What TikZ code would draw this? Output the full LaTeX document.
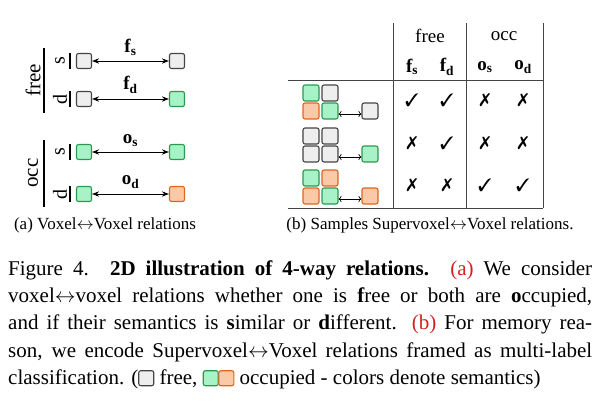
\documentclass[tikz,border=0pt]{standalone}
\usepackage{fontspec}
\setmainfont{Liberation Serif}
\usepackage{pifont}
\usetikzlibrary{arrows.meta}
\definecolor{gfill}{HTML}{EEEEEE}\definecolor{gdraw}{HTML}{444444}
\definecolor{nfill}{HTML}{A8F2C8}\definecolor{ndraw}{HTML}{2A9A4E}
\definecolor{ofill}{HTML}{FBC9A6}\definecolor{odraw}{HTML}{E0661E}
\definecolor{cred}{HTML}{D42020}
\tikzset{
 sq/.style={draw, minimum size=15pt, inner sep=0pt, rounded corners=2pt, line width=1.1pt},
 gs/.style={sq, fill=gfill, draw=gdraw},
 ns/.style={sq, fill=nfill, draw=ndraw},
 os/.style={sq, fill=ofill, draw=odraw},
 bar/.style={line width=1.8pt},
 rel/.style={<->, >={Stealth[length=7pt]}, line width=1pt},
 srel/.style={<->, >={To[length=3pt]}, line width=0.7pt},
 txt/.style={inner sep=0pt, font=\fontsize{17}{20}\selectfont},
 body/.style={inner sep=0pt, anchor=base west, font=\fontsize{21}{24}\selectfont},
 tbl/.style={line width=0.9pt, draw=gdraw},
 ss/.style={minimum size=16pt},
 lab/.style={above=2pt, font=\fontsize{19}{20}\selectfont},
 mk/.style={inner sep=0pt, font=\fontsize{18}{20}\selectfont}
}
\newcommand\isq[1]{\tikz[baseline=-0.6ex]\node[#1]{};}
\begin{document}
\begin{tikzpicture}[x=1pt,y=-1pt]
\useasboundingbox (0,0) rectangle (600,400);
% left panel
\draw[bar] (44,48) -- (44,113);
\draw[bar] (44,140) -- (44,207);
\node[txt, rotate=90, font=\fontsize{21}{22}\selectfont] (free) at (33,80) {free};
\node[txt, rotate=90, font=\fontsize{21}{22}\selectfont] (occ) at (33,173) {occ};
\foreach \y/\l/\n in {61/s/a,99/d/b,152/s/c,194/d/e}{
 \draw[bar] (70,\y-8) -- (70,\y+8);
 \node[txt, rotate=90, font=\fontsize{20}{22}\selectfont] (lab\n) at (60,\y) {\l};
}
\node[gs] (l1) at (84,61) {}; \node[gs] (r1) at (177,61) {};
\node[gs] (l2) at (84,99) {}; \node[ns] (r2) at (177,99) {};
\node[ns] (l3) at (84,152) {}; \node[ns] (r3) at (177,152) {};
\node[ns] (l4) at (84,194) {}; \node[os] (r4) at (177,194) {};
\draw[rel] (l1) -- node[lab] (t1) {$\mathbf{f_s}$} (r1);
\draw[rel] (l2) -- node[lab] (t2) {$\mathbf{f_d}$} (r2);
\draw[rel] (l3) -- node[lab] (t3) {$\mathbf{o_s}$} (r3);
\draw[rel] (l4) -- node[lab] (t4) {$\mathbf{o_d}$} (r4);
\node[txt] (capa) at (105,225) {(a) Voxel$\leftrightarrow$Voxel relations};
% table
\draw[tbl] (393,23) -- (393,208);
\draw[tbl] (466,23) -- (466,208);
\draw[tbl] (543,23) -- (543,208);
\draw[tbl] (288,80) -- (543,80);
\draw[tbl] (288,208) -- (543,208);
\node[txt, font=\fontsize{19}{20}\selectfont] (hfree) at (430,36) {free};
\node[txt, font=\fontsize{19}{20}\selectfont] (hocc) at (504,36) {occ};
\foreach \x/\a/\b/\n in {412/f/s/a,447/f/d/b,485/o/s/c,523/o/d/d}
 \node[txt, font=\fontsize{19}{20}\selectfont\bfseries] (h\n) at (\x,67) {\a\textsubscript{\b}};
\foreach \y/\a/\b/\c/\d/\n in {100/51/51/55/55/1, 143/55/51/55/55/2, 185/55/55/51/51/3}{
 \node[mk] (m\n a) at (412,\y) {\ding{\a}};
 \node[mk] (m\n b) at (447,\y) {\ding{\b}};
 \node[mk] (m\n c) at (485,\y) {\ding{\c}};
 \node[mk] (m\n d) at (523,\y) {\ding{\d}};
}
% row 1
\node[ns,ss] (a1) at (311,93) {}; \node[gs,ss] (a2) at (330,93) {};
\node[os,ss] (a3) at (311,111) {}; \node[ns,ss] (a4) at (330,111) {};
\node[gs,ss] (a5) at (370,111) {};
\draw[srel] ([yshift=-3pt]a4.east) -- ([yshift=-3pt]a5.west);
% row 2
\node[gs,ss] (b1) at (311,136) {}; \node[gs,ss] (b2) at (330,136) {};
\node[gs,ss] (b3) at (311,154) {}; \node[gs,ss] (b4) at (330,154) {};
\node[ns,ss] (b5) at (370,154) {};
\draw[srel] ([yshift=-3pt]b4.east) -- ([yshift=-3pt]b5.west);
% row 3
\node[ns,ss] (c1) at (311,178) {}; \node[os,ss] (c2) at (330,178) {};
\node[os,ss] (c3) at (311,196) {}; \node[ns,ss] (c4) at (330,196) {};
\node[os,ss] (c5) at (370,196) {};
\draw[srel] ([yshift=-3pt]c4.east) -- ([yshift=-3pt]c5.west);
\node[txt] (capb) at (430,225) {(b) Samples Supervoxel$\leftrightarrow$Voxel relations.};
% body text
\node[body] (L1) at (8,275) {\makebox[584pt][s]{Figure 4. \textbf{2D illustration of 4-way relations.} \textcolor{cred}{(a)} We consider}};
\node[body] (L2) at (8,302) {\makebox[584pt][s]{voxel$\leftrightarrow$voxel relations whether one is \textbf{f}ree or both are \textbf{o}ccupied,}};
\node[body] (L3) at (8,329) {\makebox[584pt][s]{and if their semantics is \textbf{s}imilar or \textbf{d}ifferent. \textcolor{cred}{(b)} For memory rea-}};
\node[body] (L4) at (8,357) {\makebox[584pt][s]{son, we encode Supervoxel$\leftrightarrow$Voxel relations framed as multi-label}};
\node[body] (L5) at (8,384) {classification. (\isq{gs} free, \isq{ns}\hspace{-0.5pt}\isq{os} occupied - colors denote semantics)};
\end{tikzpicture}
\end{document}
